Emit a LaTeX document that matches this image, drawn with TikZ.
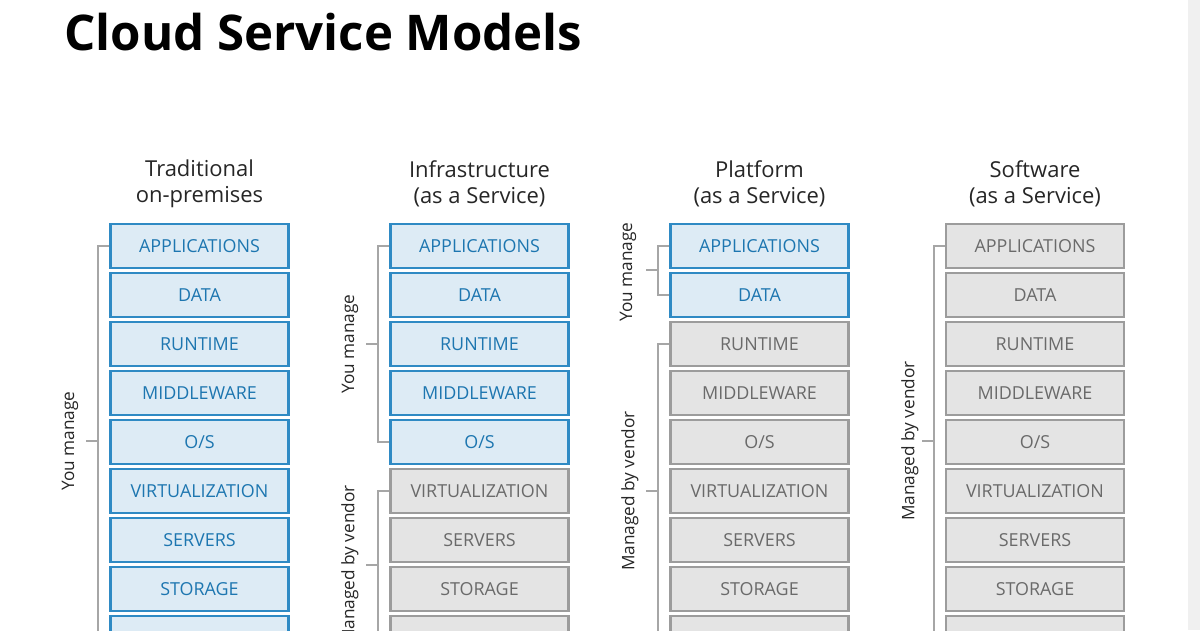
\documentclass[tikz,border=0pt]{standalone}
\usepackage{fontspec}
\setmainfont{Open Sans}
\definecolor{bfill}{HTML}{DDEBF5}
\definecolor{bdraw}{HTML}{2F8AC4}
\definecolor{btext}{HTML}{1D76B0}
\definecolor{gfill}{HTML}{E4E4E4}
\definecolor{gdraw}{HTML}{9C9C9C}
\definecolor{gtext}{HTML}{6A6A6A}
\begin{document}
\begin{tikzpicture}[x=0.02cm,y=-0.02cm,
  ub/.style={draw=bdraw,line width=1.2pt,fill=bfill,text=btext,minimum width=178*0.02cm,minimum height=44*0.02cm,inner sep=0pt,font=\fontsize{10.2}{12}\selectfont},
  vb/.style={draw=gdraw,line width=1.2pt,fill=gfill,text=gtext,minimum width=178*0.02cm,minimum height=44*0.02cm,inner sep=0pt,font=\fontsize{10.2}{12}\selectfont},
  hd/.style={align=center,font=\fontsize{12.5}{14.5}\selectfont,text=black!85},
  br/.style={draw=gray!70,line width=0.8pt},
  sl/.style={rotate=90,font=\fontsize{9.8}{11}\selectfont,text=black!85}]
\useasboundingbox (0,0) rectangle (1200,630);
\clip (0,0) rectangle (1200,630);
\fill[gray!12] (1188,0) rectangle (1200,630);
\node[anchor=west,font=\bfseries\fontsize{28}{33}\selectfont] (title) at (58,32) {Cloud Service Models};
\def\names{{"APPLICATIONS","DATA","RUNTIME","MIDDLEWARE","O/S","VIRTUALIZATION","SERVERS","STORAGE","NETWORKING"}}
\foreach \c/\cx/\nb in {1/199.5/9,2/479.5/5,3/759.5/2,4/1035/0}{
  \foreach \i in {0,...,8}{
    \pgfmathsetmacro\yy{246+49*\i}
    \pgfmathparse{\names[\i]}\let\nm\pgfmathresult
    \ifnum\i<\nb
      \node[ub] (b\c-\i) at (\cx,\yy) {\nm};
    \else
      \node[vb] (b\c-\i) at (\cx,\yy) {\nm};
    \fi
  }
}
\node[hd] (h1) at (199.5,184) {Traditional\\on-premises};
\node[hd] (h2) at (479.5,184) {Infrastructure\\(as a Service)};
\node[hd] (h3) at (759.5,184) {Platform\\(as a Service)};
\node[hd] (h4) at (1035,184) {Software\\(as a Service)};
\coordinate (l1t) at (98,246); \coordinate (l1b) at (98,640); \coordinate (l1m) at (98,441); \coordinate (l1e) at (86,441);
\draw[br] (b1-0.west) -- (l1t) -- (l1b); \draw[br] (l1m) -- (l1e);
\node[sl] (s1) at (70,441) {You manage};
\coordinate (l2t) at (378,246); \coordinate (l2b) at (378,442); \coordinate (l2m) at (378,344); \coordinate (l2e) at (366,344);
\draw[br] (b2-0.west) -- (l2t) -- (l2b) -- (b2-4.west); \draw[br] (l2m) -- (l2e);
\node[sl] (s2) at (350,344) {You manage};
\coordinate (v2t) at (378,491); \coordinate (v2b) at (378,640); \coordinate (v2m) at (378,565); \coordinate (v2e) at (366,565);
\draw[br] (b2-5.west) -- (v2t) -- (v2b); \draw[br] (v2m) -- (v2e);
\node[sl] (s2v) at (350,565) {Managed by vendor};
\coordinate (l3t) at (658,246); \coordinate (l3b) at (658,295); \coordinate (l3m) at (658,270); \coordinate (l3e) at (646,270);
\draw[br] (b3-0.west) -- (l3t) -- (l3b) -- (b3-1.west); \draw[br] (l3m) -- (l3e);
\node[sl] (s3) at (628,272) {You manage};
\coordinate (v3t) at (658,344); \coordinate (v3b) at (658,640); \coordinate (v3m) at (658,491); \coordinate (v3e) at (646,491);
\draw[br] (b3-2.west) -- (v3t) -- (v3b); \draw[br] (v3m) -- (v3e);
\node[sl] (s3v) at (630,491) {Managed by vendor};
\coordinate (l4t) at (934,246); \coordinate (l4b) at (934,640); \coordinate (l4m) at (934,441); \coordinate (l4e) at (922,441);
\draw[br] (b4-0.west) -- (l4t) -- (l4b); \draw[br] (l4m) -- (l4e);
\node[sl] (s4) at (910,441) {Managed by vendor};
\end{tikzpicture}
\end{document}
